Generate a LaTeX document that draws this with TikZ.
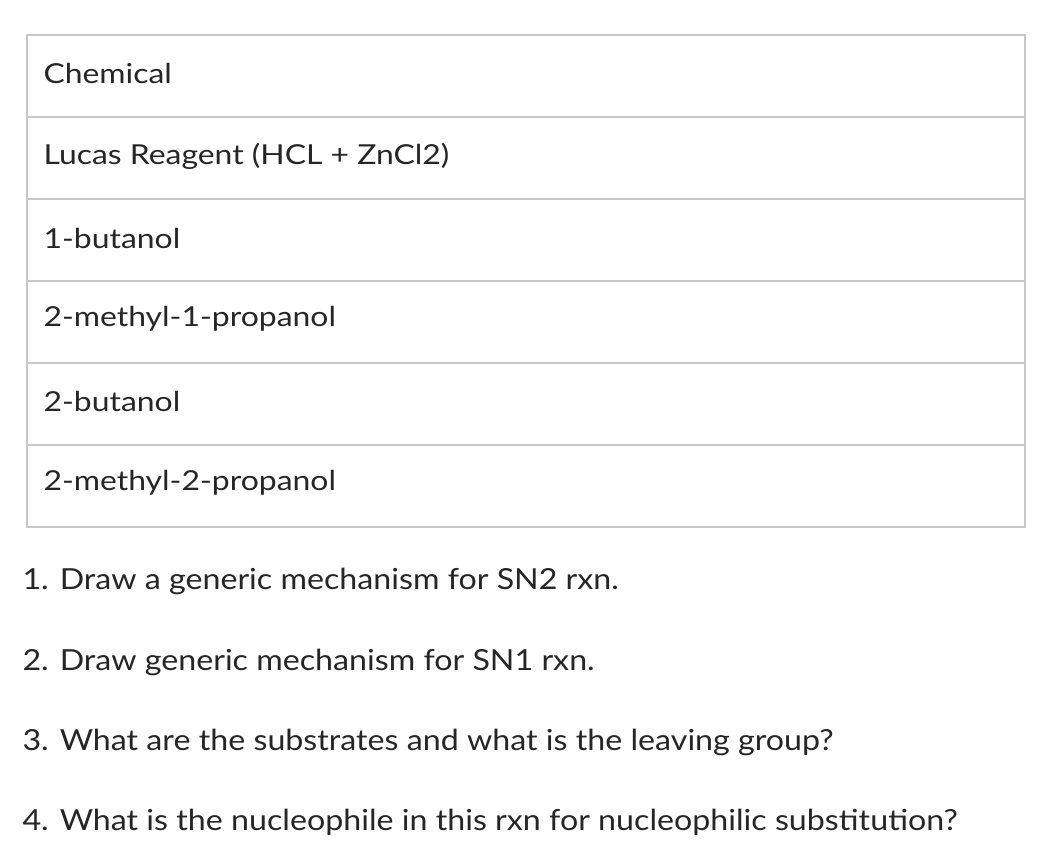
\documentclass[tikz,border=0pt]{standalone}
\usepackage{fontspec}
\setmainfont{Lato}
\newfontfamily\tabfont[FakeStretch=1.16]{Lato}
\newfontfamily\qfont[FakeStretch=1.11]{Lato}
\begin{document}
\begin{tikzpicture}[x=1pt,y=-1pt,
  cell/.style={anchor=west,font=\tabfont\fontsize{27.5}{32}\selectfont,text=black!85},
  q/.style={anchor=west,font=\qfont\fontsize{29}{34}\selectfont,text=black!85}]
\useasboundingbox (0,0) rectangle (1054,842);
\draw[black!22,line width=1.5pt] (27,35) rectangle (1025,527);
\foreach \y in {117,199,281,363,445} \draw[black!22,line width=1.5pt] (27,\y) -- (1025,\y);
\node[cell] (r1) at (40,73) {Chemical};
\node[cell] (r2) at (40,156) {Lucas Reagent (HCL + ZnCl2)};
\node[cell] (r3) at (40,238) {1-butanol};
\node[cell] (r4) at (40,319) {2-methyl-1-propanol};
\node[cell] (r5) at (40,401) {2-butanol};
\node[cell] (r6) at (40,483) {2-methyl-2-propanol};
\node[q] (q1) at (19,581) {1. Draw a generic mechanism for SN2 rxn.};
\node[q] (q2) at (19,662) {2. Draw generic mechanism for SN1 rxn.};
\node[q] (q3) at (19,742) {3. What are the substrates and what is the leaving group?};
\node[q] (q4) at (19,822) {4. What is the nucleophile in this rxn for nucleophilic substitution?};
\end{tikzpicture}
\end{document}
